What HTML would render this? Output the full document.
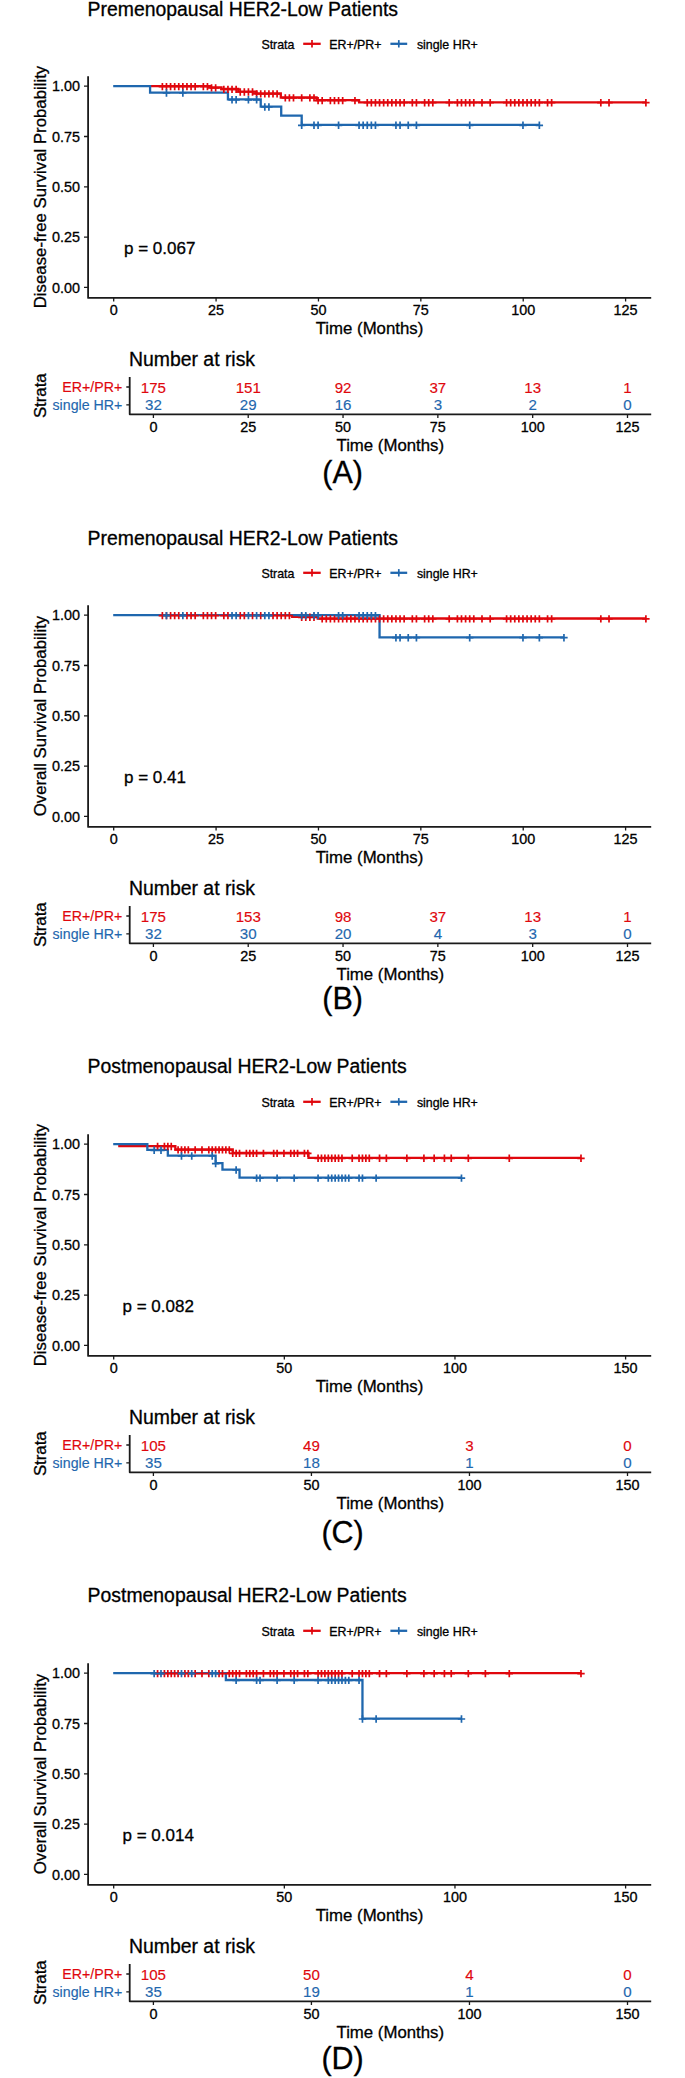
<!DOCTYPE html>
<html><head><meta charset="utf-8"><title>Kaplan-Meier curves</title>
<style>
html,body{margin:0;padding:0;background:#fff;}
svg{display:block;}
text{font-family:'Liberation Sans', Arial, Helvetica, sans-serif;fill:#000;stroke:#000;stroke-width:0.3px;}
.r{fill:#E0070D;stroke:#E0070D;stroke-width:0.15px;}
.b{fill:#1F67AE;stroke:#1F67AE;stroke-width:0.15px;}
.t12{font-size:12.4px;}
.t142{font-size:14.2px;}
.t14{font-size:14.4px;}
.t15{font-size:15.1px;}
.t17{font-size:16.8px;}
.t19{font-size:19.4px;}
.t17p{font-size:17.0px;}
.t30{font-size:30.5px;}
.m{text-anchor:middle;}
.e{text-anchor:end;}
</style></head>
<body>
<svg width="685" height="2078" viewBox="0 0 685 2078">
<rect width="685" height="2078" fill="#fff"/>
<text x="87.6" y="15.5" class="t19">Premenopausal HER2-Low Patients</text>
<text x="261.4" y="49.2" class="t12">Strata</text>
<path d="M303.2 43.8H320.7" stroke="#E0070D" stroke-width="2.3" fill="none"/><path d="M312 40.1v7.4" stroke="#E0070D" stroke-width="1.7" fill="none"/>
<text x="329.2" y="49.2" class="t12">ER+/PR+</text>
<path d="M390.4 43.8H407.2" stroke="#1F67AE" stroke-width="2.3" fill="none"/><path d="M398.8 40.1v7.4" stroke="#1F67AE" stroke-width="1.7" fill="none"/>
<text x="416.9" y="49.2" class="t12">single HR+</text>
<path d="M88.1 76.2V297.9H651.2" stroke="#1a1a1a" stroke-width="1.8" fill="none" stroke-linejoin="round"/>
<text x="80.1" y="91.3" class="t14 e">1.00</text>
<text x="80.1" y="141.6" class="t14 e">0.75</text>
<text x="80.1" y="191.9" class="t14 e">0.50</text>
<text x="80.1" y="242.2" class="t14 e">0.25</text>
<text x="80.1" y="292.5" class="t14 e">0.00</text>
<text x="113.7" y="315.2" class="t14 m">0</text>
<text x="216.08" y="315.2" class="t14 m">25</text>
<text x="318.46" y="315.2" class="t14 m">50</text>
<text x="420.84" y="315.2" class="t14 m">75</text>
<text x="523.22" y="315.2" class="t14 m">100</text>
<text x="625.6" y="315.2" class="t14 m">125</text>
<path d="M84 86.2H88.1M84 136.5H88.1M84 186.8H88.1M84 237.1H88.1M84 287.4H88.1M113.7 297.9V301.5M216.08 297.9V301.5M318.46 297.9V301.5M420.84 297.9V301.5M523.22 297.9V301.5M625.6 297.9V301.5" stroke="#1a1a1a" stroke-width="1.3" fill="none"/>
<text x="369.5" y="333.8" class="t17 m">Time (Months)</text>
<text transform="translate(46.3 187) rotate(-90)" x="0" y="0" class="t17 m">Disease-free Survival Probability</text>
<path d="M149.48 86.2H210.8V87.5H221.5V89H238.3V91.6H256.5V93.5H280.8V97.5H316.6V100.2H359.1V102.3H645.9" stroke="#E0070D" stroke-width="2.3" fill="none"/>
<path d="M113.2 86.2H150.08V92.6H227.94V99.4H260.72V106.6H281.21V115.7H301.69V124.9H539.36" stroke="#1F67AE" stroke-width="2.3" fill="none"/>
<path d="M158.67 86.6h7.4M162.37 82.9v7.4M162.77 86.6h7.4M166.47 82.9v7.4M166.87 86.6h7.4M170.57 82.9v7.4M170.97 86.6h7.4M174.67 82.9v7.4M175.06 86.6h7.4M178.76 82.9v7.4M179.16 86.6h7.4M182.86 82.9v7.4M183.26 86.6h7.4M186.96 82.9v7.4M187.36 86.6h7.4M191.06 82.9v7.4M191.45 86.6h7.4M195.15 82.9v7.4M199.65 86.6h7.4M203.35 82.9v7.4M203.75 86.6h7.4M207.45 82.9v7.4M207.84 87.9h7.4M211.54 84.2v7.4M211.94 87.9h7.4M215.64 84.2v7.4M220.14 89.4h7.4M223.84 85.7v7.4M224.24 89.4h7.4M227.94 85.7v7.4M228.33 89.4h7.4M232.03 85.7v7.4M232.43 89.4h7.4M236.13 85.7v7.4M236.53 92h7.4M240.23 88.3v7.4M240.63 92h7.4M244.33 88.3v7.4M244.72 92h7.4M248.42 88.3v7.4M248.82 92h7.4M252.52 88.3v7.4M252.92 93.9h7.4M256.62 90.2v7.4M257.02 93.9h7.4M260.72 90.2v7.4M261.11 93.9h7.4M264.81 90.2v7.4M265.21 93.9h7.4M268.91 90.2v7.4M269.31 93.9h7.4M273.01 90.2v7.4M273.41 93.9h7.4M277.11 90.2v7.4M281.6 97.9h7.4M285.3 94.2v7.4M285.7 97.9h7.4M289.4 94.2v7.4M289.8 97.9h7.4M293.5 94.2v7.4M297.99 97.9h7.4M301.69 94.2v7.4M306.19 97.9h7.4M309.89 94.2v7.4M310.29 97.9h7.4M313.99 94.2v7.4M314.38 100.6h7.4M318.08 96.9v7.4M318.48 100.6h7.4M322.18 96.9v7.4M326.68 100.6h7.4M330.38 96.9v7.4M330.78 100.6h7.4M334.48 96.9v7.4M334.87 100.6h7.4M338.57 96.9v7.4M338.97 100.6h7.4M342.67 96.9v7.4M351.26 100.6h7.4M354.96 96.9v7.4M363.56 102.7h7.4M367.26 99v7.4M367.66 102.7h7.4M371.36 99v7.4M371.75 102.7h7.4M375.45 99v7.4M375.85 102.7h7.4M379.55 99v7.4M379.95 102.7h7.4M383.65 99v7.4M384.05 102.7h7.4M387.75 99v7.4M388.14 102.7h7.4M391.84 99v7.4M392.24 102.7h7.4M395.94 99v7.4M396.34 102.7h7.4M400.04 99v7.4M400.44 102.7h7.4M404.14 99v7.4M408.63 102.7h7.4M412.33 99v7.4M412.73 102.7h7.4M416.43 99v7.4M420.93 102.7h7.4M424.63 99v7.4M425.02 102.7h7.4M428.72 99v7.4M429.12 102.7h7.4M432.82 99v7.4M445.51 102.7h7.4M449.21 99v7.4M453.71 102.7h7.4M457.41 99v7.4M457.8 102.7h7.4M461.5 99v7.4M461.9 102.7h7.4M465.6 99v7.4M466 102.7h7.4M469.7 99v7.4M470.1 102.7h7.4M473.8 99v7.4M478.29 102.7h7.4M481.99 99v7.4M486.49 102.7h7.4M490.19 99v7.4M502.88 102.7h7.4M506.58 99v7.4M506.98 102.7h7.4M510.68 99v7.4M511.07 102.7h7.4M514.77 99v7.4M515.17 102.7h7.4M518.87 99v7.4M519.27 102.7h7.4M522.97 99v7.4M523.37 102.7h7.4M527.07 99v7.4M527.47 102.7h7.4M531.17 99v7.4M531.56 102.7h7.4M535.26 99v7.4M535.66 102.7h7.4M539.36 99v7.4M543.86 102.7h7.4M547.56 99v7.4M547.95 102.7h7.4M551.65 99v7.4M597.13 102.7h7.4M600.83 99v7.4M605.32 102.7h7.4M609.02 99v7.4M642.2 102.7h7.4M645.9 99v7.4" stroke="#E0070D" stroke-width="1.7" fill="none"/>
<path d="M162.77 93h7.4M166.47 89.3v7.4M179.16 93h7.4M182.86 89.3v7.4M228.33 99.8h7.4M232.03 96.1v7.4M232.43 99.8h7.4M236.13 96.1v7.4M244.72 99.8h7.4M248.42 96.1v7.4M252.92 99.8h7.4M256.62 96.1v7.4M261.11 107h7.4M264.81 103.3v7.4M265.21 107h7.4M268.91 103.3v7.4M297.99 125.3h7.4M301.69 121.6v7.4M310.29 125.3h7.4M313.99 121.6v7.4M314.38 125.3h7.4M318.08 121.6v7.4M334.87 125.3h7.4M338.57 121.6v7.4M355.36 125.3h7.4M359.06 121.6v7.4M359.46 125.3h7.4M363.16 121.6v7.4M363.56 125.3h7.4M367.26 121.6v7.4M367.66 125.3h7.4M371.36 121.6v7.4M371.75 125.3h7.4M375.45 121.6v7.4M392.24 125.3h7.4M395.94 121.6v7.4M396.34 125.3h7.4M400.04 121.6v7.4M404.53 125.3h7.4M408.23 121.6v7.4M412.73 125.3h7.4M416.43 121.6v7.4M466 125.3h7.4M469.7 121.6v7.4M519.27 125.3h7.4M522.97 121.6v7.4M535.66 125.3h7.4M539.36 121.6v7.4" stroke="#1F67AE" stroke-width="1.7" fill="none"/>
<text x="124.0" y="253.6" class="t17p">p = 0.067</text>
<text x="129" y="365.7" class="t19">Number at risk</text>
<text transform="translate(46.4 395.7) rotate(-90)" x="0" y="0" class="t17 m">Strata</text>
<path d="M129.7 377.1V414.3H651.2" stroke="#1a1a1a" stroke-width="1.8" fill="none" stroke-linejoin="round"/>
<text x="122.3" y="391.9" class="t142 e r">ER+/PR+</text>
<text x="122.3" y="409.7" class="t142 e b">single HR+</text>
<text x="153.4" y="432" class="t14 m">0</text>
<text x="153.4" y="393.4" class="t15 m r">175</text>
<text x="153.4" y="410.4" class="t15 m b">32</text>
<text x="248.22" y="432" class="t14 m">25</text>
<text x="248.22" y="393.4" class="t15 m r">151</text>
<text x="248.22" y="410.4" class="t15 m b">29</text>
<text x="343.04" y="432" class="t14 m">50</text>
<text x="343.04" y="393.4" class="t15 m r">92</text>
<text x="343.04" y="410.4" class="t15 m b">16</text>
<text x="437.86" y="432" class="t14 m">75</text>
<text x="437.86" y="393.4" class="t15 m r">37</text>
<text x="437.86" y="410.4" class="t15 m b">3</text>
<text x="532.68" y="432" class="t14 m">100</text>
<text x="532.68" y="393.4" class="t15 m r">13</text>
<text x="532.68" y="410.4" class="t15 m b">2</text>
<text x="627.5" y="432" class="t14 m">125</text>
<text x="627.5" y="393.4" class="t15 m r">1</text>
<text x="627.5" y="410.4" class="t15 m b">0</text>
<path d="M126.3 387H129.7M126.3 404.8H129.7M153.4 414.3V417.9M248.22 414.3V417.9M343.04 414.3V417.9M437.86 414.3V417.9M532.68 414.3V417.9M627.5 414.3V417.9" stroke="#1a1a1a" stroke-width="1.3" fill="none"/>
<text x="390.3" y="451" class="t17 m">Time (Months)</text>
<text x="342.6" y="482.9" class="t30 m">(A)</text>
<text x="87.6" y="544.5" class="t19">Premenopausal HER2-Low Patients</text>
<text x="261.4" y="578.2" class="t12">Strata</text>
<path d="M303.2 572.8H320.7" stroke="#E0070D" stroke-width="2.3" fill="none"/><path d="M312 569.1v7.4" stroke="#E0070D" stroke-width="1.7" fill="none"/>
<text x="329.2" y="578.2" class="t12">ER+/PR+</text>
<path d="M390.4 572.8H407.2" stroke="#1F67AE" stroke-width="2.3" fill="none"/><path d="M398.8 569.1v7.4" stroke="#1F67AE" stroke-width="1.7" fill="none"/>
<text x="416.9" y="578.2" class="t12">single HR+</text>
<path d="M88.1 605.2V826.9H651.2" stroke="#1a1a1a" stroke-width="1.8" fill="none" stroke-linejoin="round"/>
<text x="80.1" y="620.3" class="t14 e">1.00</text>
<text x="80.1" y="670.6" class="t14 e">0.75</text>
<text x="80.1" y="720.9" class="t14 e">0.50</text>
<text x="80.1" y="771.2" class="t14 e">0.25</text>
<text x="80.1" y="821.5" class="t14 e">0.00</text>
<text x="113.7" y="844.2" class="t14 m">0</text>
<text x="216.08" y="844.2" class="t14 m">25</text>
<text x="318.46" y="844.2" class="t14 m">50</text>
<text x="420.84" y="844.2" class="t14 m">75</text>
<text x="523.22" y="844.2" class="t14 m">100</text>
<text x="625.6" y="844.2" class="t14 m">125</text>
<path d="M84 615.2H88.1M84 665.5H88.1M84 715.8H88.1M84 766.1H88.1M84 816.4H88.1M113.7 826.9V830.5M216.08 826.9V830.5M318.46 826.9V830.5M420.84 826.9V830.5M523.22 826.9V830.5M625.6 826.9V830.5" stroke="#1a1a1a" stroke-width="1.3" fill="none"/>
<text x="369.5" y="862.8" class="t17 m">Time (Months)</text>
<text transform="translate(46.3 716) rotate(-90)" x="0" y="0" class="t17 m">Overall Survival Probability</text>
<path d="M291.6 615.2H292.2V616.9H317.7V618.5H645.9" stroke="#E0070D" stroke-width="2.3" fill="none"/>
<path d="M113.2 615.2H379.55V637.3H563.95" stroke="#1F67AE" stroke-width="2.3" fill="none"/>
<path d="M158.67 615.6h7.4M162.37 611.9v7.4M162.77 615.6h7.4M166.47 611.9v7.4M166.87 615.6h7.4M170.57 611.9v7.4M170.97 615.6h7.4M174.67 611.9v7.4M175.06 615.6h7.4M178.76 611.9v7.4M183.26 615.6h7.4M186.96 611.9v7.4M187.36 615.6h7.4M191.06 611.9v7.4M191.45 615.6h7.4M195.15 611.9v7.4M199.65 615.6h7.4M203.35 611.9v7.4M203.75 615.6h7.4M207.45 611.9v7.4M207.84 615.6h7.4M211.54 611.9v7.4M211.94 615.6h7.4M215.64 611.9v7.4M220.14 615.6h7.4M223.84 611.9v7.4M224.24 615.6h7.4M227.94 611.9v7.4M236.53 615.6h7.4M240.23 611.9v7.4M240.63 615.6h7.4M244.33 611.9v7.4M248.82 615.6h7.4M252.52 611.9v7.4M257.02 615.6h7.4M260.72 611.9v7.4M269.31 615.6h7.4M273.01 611.9v7.4M273.41 615.6h7.4M277.11 611.9v7.4M277.51 615.6h7.4M281.21 611.9v7.4M281.6 615.6h7.4M285.3 611.9v7.4M285.7 615.6h7.4M289.4 611.9v7.4M297.99 617.3h7.4M301.69 613.6v7.4M302.09 617.3h7.4M305.79 613.6v7.4M306.19 617.3h7.4M309.89 613.6v7.4M310.29 617.3h7.4M313.99 613.6v7.4M318.48 618.9h7.4M322.18 615.2v7.4M322.58 618.9h7.4M326.28 615.2v7.4M326.68 618.9h7.4M330.38 615.2v7.4M330.78 618.9h7.4M334.48 615.2v7.4M334.87 618.9h7.4M338.57 615.2v7.4M338.97 618.9h7.4M342.67 615.2v7.4M343.07 618.9h7.4M346.77 615.2v7.4M347.17 618.9h7.4M350.87 615.2v7.4M351.26 618.9h7.4M354.96 615.2v7.4M355.36 618.9h7.4M359.06 615.2v7.4M359.46 618.9h7.4M363.16 615.2v7.4M363.56 618.9h7.4M367.26 615.2v7.4M367.66 618.9h7.4M371.36 615.2v7.4M371.75 618.9h7.4M375.45 615.2v7.4M375.85 618.9h7.4M379.55 615.2v7.4M379.95 618.9h7.4M383.65 615.2v7.4M384.05 618.9h7.4M387.75 615.2v7.4M388.14 618.9h7.4M391.84 615.2v7.4M392.24 618.9h7.4M395.94 615.2v7.4M396.34 618.9h7.4M400.04 615.2v7.4M400.44 618.9h7.4M404.14 615.2v7.4M408.63 618.9h7.4M412.33 615.2v7.4M412.73 618.9h7.4M416.43 615.2v7.4M420.93 618.9h7.4M424.63 615.2v7.4M425.02 618.9h7.4M428.72 615.2v7.4M429.12 618.9h7.4M432.82 615.2v7.4M445.51 618.9h7.4M449.21 615.2v7.4M453.71 618.9h7.4M457.41 615.2v7.4M457.8 618.9h7.4M461.5 615.2v7.4M461.9 618.9h7.4M465.6 615.2v7.4M466 618.9h7.4M469.7 615.2v7.4M470.1 618.9h7.4M473.8 615.2v7.4M478.29 618.9h7.4M481.99 615.2v7.4M486.49 618.9h7.4M490.19 615.2v7.4M502.88 618.9h7.4M506.58 615.2v7.4M506.98 618.9h7.4M510.68 615.2v7.4M511.07 618.9h7.4M514.77 615.2v7.4M515.17 618.9h7.4M518.87 615.2v7.4M519.27 618.9h7.4M522.97 615.2v7.4M523.37 618.9h7.4M527.07 615.2v7.4M527.47 618.9h7.4M531.17 615.2v7.4M531.56 618.9h7.4M535.26 615.2v7.4M535.66 618.9h7.4M539.36 615.2v7.4M543.86 618.9h7.4M547.56 615.2v7.4M547.95 618.9h7.4M551.65 615.2v7.4M597.13 618.9h7.4M600.83 615.2v7.4M605.32 618.9h7.4M609.02 615.2v7.4M642.2 618.9h7.4M645.9 615.2v7.4" stroke="#E0070D" stroke-width="1.7" fill="none"/>
<path d="M162.77 615.6h7.4M166.47 611.9v7.4M179.16 615.6h7.4M182.86 611.9v7.4M228.33 615.6h7.4M232.03 611.9v7.4M232.43 615.6h7.4M236.13 611.9v7.4M244.72 615.6h7.4M248.42 611.9v7.4M252.92 615.6h7.4M256.62 611.9v7.4M261.11 615.6h7.4M264.81 611.9v7.4M265.21 615.6h7.4M268.91 611.9v7.4M297.99 615.6h7.4M301.69 611.9v7.4M302.09 615.6h7.4M305.79 611.9v7.4M310.29 615.6h7.4M313.99 611.9v7.4M314.38 615.6h7.4M318.08 611.9v7.4M334.87 615.6h7.4M338.57 611.9v7.4M338.97 615.6h7.4M342.67 611.9v7.4M355.36 615.6h7.4M359.06 611.9v7.4M359.46 615.6h7.4M363.16 611.9v7.4M363.56 615.6h7.4M367.26 611.9v7.4M367.66 615.6h7.4M371.36 611.9v7.4M371.75 615.6h7.4M375.45 611.9v7.4M392.24 637.7h7.4M395.94 634v7.4M396.34 637.7h7.4M400.04 634v7.4M404.53 637.7h7.4M408.23 634v7.4M412.73 637.7h7.4M416.43 634v7.4M466 637.7h7.4M469.7 634v7.4M519.27 637.7h7.4M522.97 634v7.4M535.66 637.7h7.4M539.36 634v7.4M560.25 637.7h7.4M563.95 634v7.4" stroke="#1F67AE" stroke-width="1.7" fill="none"/>
<text x="124.0" y="782.6" class="t17p">p = 0.41</text>
<text x="129" y="894.7" class="t19">Number at risk</text>
<text transform="translate(46.4 924.7) rotate(-90)" x="0" y="0" class="t17 m">Strata</text>
<path d="M129.7 906.1V943.3H651.2" stroke="#1a1a1a" stroke-width="1.8" fill="none" stroke-linejoin="round"/>
<text x="122.3" y="920.9" class="t142 e r">ER+/PR+</text>
<text x="122.3" y="938.7" class="t142 e b">single HR+</text>
<text x="153.4" y="961" class="t14 m">0</text>
<text x="153.4" y="922.4" class="t15 m r">175</text>
<text x="153.4" y="939.4" class="t15 m b">32</text>
<text x="248.22" y="961" class="t14 m">25</text>
<text x="248.22" y="922.4" class="t15 m r">153</text>
<text x="248.22" y="939.4" class="t15 m b">30</text>
<text x="343.04" y="961" class="t14 m">50</text>
<text x="343.04" y="922.4" class="t15 m r">98</text>
<text x="343.04" y="939.4" class="t15 m b">20</text>
<text x="437.86" y="961" class="t14 m">75</text>
<text x="437.86" y="922.4" class="t15 m r">37</text>
<text x="437.86" y="939.4" class="t15 m b">4</text>
<text x="532.68" y="961" class="t14 m">100</text>
<text x="532.68" y="922.4" class="t15 m r">13</text>
<text x="532.68" y="939.4" class="t15 m b">3</text>
<text x="627.5" y="961" class="t14 m">125</text>
<text x="627.5" y="922.4" class="t15 m r">1</text>
<text x="627.5" y="939.4" class="t15 m b">0</text>
<path d="M126.3 916H129.7M126.3 933.8H129.7M153.4 943.3V946.9M248.22 943.3V946.9M343.04 943.3V946.9M437.86 943.3V946.9M532.68 943.3V946.9M627.5 943.3V946.9" stroke="#1a1a1a" stroke-width="1.3" fill="none"/>
<text x="390.3" y="980" class="t17 m">Time (Months)</text>
<text x="342.6" y="1009.1" class="t30 m">(B)</text>
<text x="87.6" y="1072.8" class="t19">Postmenopausal HER2-Low Patients</text>
<text x="261.4" y="1107.2" class="t12">Strata</text>
<path d="M303.2 1101.8H320.7" stroke="#E0070D" stroke-width="2.3" fill="none"/><path d="M312 1098.1v7.4" stroke="#E0070D" stroke-width="1.7" fill="none"/>
<text x="329.2" y="1107.2" class="t12">ER+/PR+</text>
<path d="M390.4 1101.8H407.2" stroke="#1F67AE" stroke-width="2.3" fill="none"/><path d="M398.8 1098.1v7.4" stroke="#1F67AE" stroke-width="1.7" fill="none"/>
<text x="416.9" y="1107.2" class="t12">single HR+</text>
<path d="M88.1 1134.2V1355.9H651.2" stroke="#1a1a1a" stroke-width="1.8" fill="none" stroke-linejoin="round"/>
<text x="80.1" y="1149.3" class="t14 e">1.00</text>
<text x="80.1" y="1199.6" class="t14 e">0.75</text>
<text x="80.1" y="1249.9" class="t14 e">0.50</text>
<text x="80.1" y="1300.2" class="t14 e">0.25</text>
<text x="80.1" y="1350.5" class="t14 e">0.00</text>
<text x="113.7" y="1373.2" class="t14 m">0</text>
<text x="284.33" y="1373.2" class="t14 m">50</text>
<text x="454.97" y="1373.2" class="t14 m">100</text>
<text x="625.6" y="1373.2" class="t14 m">150</text>
<path d="M84 1144.2H88.1M84 1194.5H88.1M84 1244.8H88.1M84 1295.1H88.1M84 1345.4H88.1M113.7 1355.9V1359.5M284.33 1355.9V1359.5M454.97 1355.9V1359.5M625.6 1355.9V1359.5" stroke="#1a1a1a" stroke-width="1.3" fill="none"/>
<text x="369.5" y="1391.8" class="t17 m">Time (Months)</text>
<text transform="translate(46.3 1245) rotate(-90)" x="0" y="0" class="t17 m">Disease-free Survival Probability</text>
<path d="M118.75 1144.2H119.35V1146.1H175.34V1149.5H232.71V1153H308.51V1157.9H580.99" stroke="#E0070D" stroke-width="2.3" fill="none"/>
<path d="M113.2 1144.2H147.34V1149.9H167.83V1155.6H215.63V1163.2H222.46V1169.6H239.54V1177.7H461.48" stroke="#1F67AE" stroke-width="2.3" fill="none"/>
<path d="M153.89 1146.5h7.4M157.59 1142.8v7.4M160.72 1146.5h7.4M164.42 1142.8v7.4M164.13 1146.5h7.4M167.83 1142.8v7.4M167.55 1146.5h7.4M171.25 1142.8v7.4M174.38 1149.9h7.4M178.08 1146.2v7.4M177.79 1149.9h7.4M181.49 1146.2v7.4M181.2 1149.9h7.4M184.9 1146.2v7.4M184.62 1149.9h7.4M188.32 1146.2v7.4M191.45 1149.9h7.4M195.15 1146.2v7.4M198.28 1149.9h7.4M201.98 1146.2v7.4M205.11 1149.9h7.4M208.81 1146.2v7.4M208.52 1149.9h7.4M212.22 1146.2v7.4M211.94 1149.9h7.4M215.63 1146.2v7.4M215.35 1149.9h7.4M219.05 1146.2v7.4M218.76 1149.9h7.4M222.46 1146.2v7.4M222.18 1149.9h7.4M225.88 1146.2v7.4M225.59 1149.9h7.4M229.29 1146.2v7.4M229.01 1153.4h7.4M232.71 1149.7v7.4M232.42 1153.4h7.4M236.12 1149.7v7.4M235.84 1153.4h7.4M239.54 1149.7v7.4M242.67 1153.4h7.4M246.37 1149.7v7.4M246.08 1153.4h7.4M249.78 1149.7v7.4M249.49 1153.4h7.4M253.19 1149.7v7.4M252.91 1153.4h7.4M256.61 1149.7v7.4M259.74 1153.4h7.4M263.44 1149.7v7.4M269.98 1153.4h7.4M273.68 1149.7v7.4M273.4 1153.4h7.4M277.1 1149.7v7.4M280.23 1153.4h7.4M283.93 1149.7v7.4M287.05 1153.4h7.4M290.75 1149.7v7.4M290.47 1153.4h7.4M294.17 1149.7v7.4M293.88 1153.4h7.4M297.58 1149.7v7.4M300.71 1153.4h7.4M304.41 1149.7v7.4M304.13 1153.4h7.4M307.83 1149.7v7.4M314.37 1158.3h7.4M318.07 1154.6v7.4M317.78 1158.3h7.4M321.48 1154.6v7.4M321.2 1158.3h7.4M324.9 1154.6v7.4M324.61 1158.3h7.4M328.31 1154.6v7.4M328.03 1158.3h7.4M331.73 1154.6v7.4M331.44 1158.3h7.4M335.14 1154.6v7.4M334.86 1158.3h7.4M338.56 1154.6v7.4M338.27 1158.3h7.4M341.97 1154.6v7.4M348.51 1158.3h7.4M352.21 1154.6v7.4M355.34 1158.3h7.4M359.04 1154.6v7.4M358.76 1158.3h7.4M362.46 1154.6v7.4M362.17 1158.3h7.4M365.87 1154.6v7.4M365.59 1158.3h7.4M369.29 1154.6v7.4M375.83 1158.3h7.4M379.53 1154.6v7.4M382.66 1158.3h7.4M386.36 1154.6v7.4M403.15 1158.3h7.4M406.85 1154.6v7.4M420.22 1158.3h7.4M423.92 1154.6v7.4M430.46 1158.3h7.4M434.16 1154.6v7.4M440.71 1158.3h7.4M444.41 1154.6v7.4M447.54 1158.3h7.4M451.24 1154.6v7.4M464.61 1158.3h7.4M468.31 1154.6v7.4M505.58 1158.3h7.4M509.28 1154.6v7.4M577.29 1158.3h7.4M580.99 1154.6v7.4" stroke="#E0070D" stroke-width="1.7" fill="none"/>
<path d="M150.47 1150.3h7.4M154.17 1146.6v7.4M157.3 1150.3h7.4M161 1146.6v7.4M177.79 1156h7.4M181.49 1152.3v7.4M188.03 1156h7.4M191.73 1152.3v7.4M208.52 1156h7.4M212.22 1152.3v7.4M211.94 1163.6h7.4M215.63 1159.9v7.4M232.42 1170h7.4M236.12 1166.3v7.4M252.91 1178.1h7.4M256.61 1174.4v7.4M256.32 1178.1h7.4M260.02 1174.4v7.4M273.4 1178.1h7.4M277.1 1174.4v7.4M290.47 1178.1h7.4M294.17 1174.4v7.4M314.37 1178.1h7.4M318.07 1174.4v7.4M324.61 1178.1h7.4M328.31 1174.4v7.4M328.03 1178.1h7.4M331.73 1174.4v7.4M331.44 1178.1h7.4M335.14 1174.4v7.4M334.86 1178.1h7.4M338.56 1174.4v7.4M338.27 1178.1h7.4M341.97 1174.4v7.4M341.69 1178.1h7.4M345.39 1174.4v7.4M345.1 1178.1h7.4M348.8 1174.4v7.4M355.34 1178.1h7.4M359.04 1174.4v7.4M358.76 1178.1h7.4M362.46 1174.4v7.4M372.42 1178.1h7.4M376.12 1174.4v7.4M457.78 1178.1h7.4M461.48 1174.4v7.4" stroke="#1F67AE" stroke-width="1.7" fill="none"/>
<text x="122.5" y="1311.6" class="t17p">p = 0.082</text>
<text x="129" y="1423.7" class="t19">Number at risk</text>
<text transform="translate(46.4 1453.7) rotate(-90)" x="0" y="0" class="t17 m">Strata</text>
<path d="M129.7 1435.1V1472.3H651.2" stroke="#1a1a1a" stroke-width="1.8" fill="none" stroke-linejoin="round"/>
<text x="122.3" y="1449.9" class="t142 e r">ER+/PR+</text>
<text x="122.3" y="1467.7" class="t142 e b">single HR+</text>
<text x="153.4" y="1490" class="t14 m">0</text>
<text x="153.4" y="1451.4" class="t15 m r">105</text>
<text x="153.4" y="1468.4" class="t15 m b">35</text>
<text x="311.43" y="1490" class="t14 m">50</text>
<text x="311.43" y="1451.4" class="t15 m r">49</text>
<text x="311.43" y="1468.4" class="t15 m b">18</text>
<text x="469.47" y="1490" class="t14 m">100</text>
<text x="469.47" y="1451.4" class="t15 m r">3</text>
<text x="469.47" y="1468.4" class="t15 m b">1</text>
<text x="627.5" y="1490" class="t14 m">150</text>
<text x="627.5" y="1451.4" class="t15 m r">0</text>
<text x="627.5" y="1468.4" class="t15 m b">0</text>
<path d="M126.3 1445H129.7M126.3 1462.8H129.7M153.4 1472.3V1475.9M311.43 1472.3V1475.9M469.47 1472.3V1475.9M627.5 1472.3V1475.9" stroke="#1a1a1a" stroke-width="1.3" fill="none"/>
<text x="390.3" y="1509" class="t17 m">Time (Months)</text>
<text x="342.6" y="1542.9" class="t30 m">(C)</text>
<text x="87.6" y="1601.9" class="t19">Postmenopausal HER2-Low Patients</text>
<text x="261.4" y="1636.2" class="t12">Strata</text>
<path d="M303.2 1630.8H320.7" stroke="#E0070D" stroke-width="2.3" fill="none"/><path d="M312 1627.1v7.4" stroke="#E0070D" stroke-width="1.7" fill="none"/>
<text x="329.2" y="1636.2" class="t12">ER+/PR+</text>
<path d="M390.4 1630.8H407.2" stroke="#1F67AE" stroke-width="2.3" fill="none"/><path d="M398.8 1627.1v7.4" stroke="#1F67AE" stroke-width="1.7" fill="none"/>
<text x="416.9" y="1636.2" class="t12">single HR+</text>
<path d="M88.1 1663.2V1884.9H651.2" stroke="#1a1a1a" stroke-width="1.8" fill="none" stroke-linejoin="round"/>
<text x="80.1" y="1678.3" class="t14 e">1.00</text>
<text x="80.1" y="1728.6" class="t14 e">0.75</text>
<text x="80.1" y="1778.9" class="t14 e">0.50</text>
<text x="80.1" y="1829.2" class="t14 e">0.25</text>
<text x="80.1" y="1879.5" class="t14 e">0.00</text>
<text x="113.7" y="1902.2" class="t14 m">0</text>
<text x="284.33" y="1902.2" class="t14 m">50</text>
<text x="454.97" y="1902.2" class="t14 m">100</text>
<text x="625.6" y="1902.2" class="t14 m">150</text>
<path d="M84 1673.2H88.1M84 1723.5H88.1M84 1773.8H88.1M84 1824.1H88.1M84 1874.4H88.1M113.7 1884.9V1888.5M284.33 1884.9V1888.5M454.97 1884.9V1888.5M625.6 1884.9V1888.5" stroke="#1a1a1a" stroke-width="1.3" fill="none"/>
<text x="369.5" y="1920.8" class="t17 m">Time (Months)</text>
<text transform="translate(46.3 1774) rotate(-90)" x="0" y="0" class="t17 m">Overall Survival Probability</text>
<path d="M225.28 1673.2H580.99" stroke="#E0070D" stroke-width="2.3" fill="none"/>
<path d="M113.2 1673.2H225.88V1680H362.46V1718.6H461.48" stroke="#1F67AE" stroke-width="2.3" fill="none"/>
<path d="M153.89 1673.6h7.4M157.59 1669.9v7.4M160.72 1673.6h7.4M164.42 1669.9v7.4M164.13 1673.6h7.4M167.83 1669.9v7.4M167.55 1673.6h7.4M171.25 1669.9v7.4M170.96 1673.6h7.4M174.66 1669.9v7.4M174.38 1673.6h7.4M178.08 1669.9v7.4M181.2 1673.6h7.4M184.9 1669.9v7.4M184.62 1673.6h7.4M188.32 1669.9v7.4M191.45 1673.6h7.4M195.15 1669.9v7.4M198.28 1673.6h7.4M201.98 1669.9v7.4M205.11 1673.6h7.4M208.81 1669.9v7.4M215.35 1673.6h7.4M219.05 1669.9v7.4M218.76 1673.6h7.4M222.46 1669.9v7.4M225.59 1673.6h7.4M229.29 1669.9v7.4M229.01 1673.6h7.4M232.71 1669.9v7.4M232.42 1673.6h7.4M236.12 1669.9v7.4M235.84 1673.6h7.4M239.54 1669.9v7.4M242.67 1673.6h7.4M246.37 1669.9v7.4M246.08 1673.6h7.4M249.78 1669.9v7.4M249.49 1673.6h7.4M253.19 1669.9v7.4M252.91 1673.6h7.4M256.61 1669.9v7.4M259.74 1673.6h7.4M263.44 1669.9v7.4M266.57 1673.6h7.4M270.27 1669.9v7.4M269.98 1673.6h7.4M273.68 1669.9v7.4M273.4 1673.6h7.4M277.1 1669.9v7.4M280.23 1673.6h7.4M283.93 1669.9v7.4M287.05 1673.6h7.4M290.75 1669.9v7.4M290.47 1673.6h7.4M294.17 1669.9v7.4M293.88 1673.6h7.4M297.58 1669.9v7.4M300.71 1673.6h7.4M304.41 1669.9v7.4M304.13 1673.6h7.4M307.83 1669.9v7.4M314.37 1673.6h7.4M318.07 1669.9v7.4M317.78 1673.6h7.4M321.48 1669.9v7.4M321.2 1673.6h7.4M324.9 1669.9v7.4M324.61 1673.6h7.4M328.31 1669.9v7.4M328.03 1673.6h7.4M331.73 1669.9v7.4M331.44 1673.6h7.4M335.14 1669.9v7.4M334.86 1673.6h7.4M338.56 1669.9v7.4M338.27 1673.6h7.4M341.97 1669.9v7.4M348.51 1673.6h7.4M352.21 1669.9v7.4M355.34 1673.6h7.4M359.04 1669.9v7.4M358.76 1673.6h7.4M362.46 1669.9v7.4M362.17 1673.6h7.4M365.87 1669.9v7.4M365.59 1673.6h7.4M369.29 1669.9v7.4M375.83 1673.6h7.4M379.53 1669.9v7.4M382.66 1673.6h7.4M386.36 1669.9v7.4M403.15 1673.6h7.4M406.85 1669.9v7.4M420.22 1673.6h7.4M423.92 1669.9v7.4M430.46 1673.6h7.4M434.16 1669.9v7.4M440.71 1673.6h7.4M444.41 1669.9v7.4M447.54 1673.6h7.4M451.24 1669.9v7.4M464.61 1673.6h7.4M468.31 1669.9v7.4M481.68 1673.6h7.4M485.38 1669.9v7.4M505.58 1673.6h7.4M509.28 1669.9v7.4M577.29 1673.6h7.4M580.99 1669.9v7.4" stroke="#E0070D" stroke-width="1.7" fill="none"/>
<path d="M150.47 1673.6h7.4M154.17 1669.9v7.4M157.3 1673.6h7.4M161 1669.9v7.4M177.79 1673.6h7.4M181.49 1669.9v7.4M188.03 1673.6h7.4M191.73 1669.9v7.4M208.52 1673.6h7.4M212.22 1669.9v7.4M211.94 1673.6h7.4M215.63 1669.9v7.4M232.42 1680.4h7.4M236.12 1676.7v7.4M252.91 1680.4h7.4M256.61 1676.7v7.4M256.32 1680.4h7.4M260.02 1676.7v7.4M273.4 1680.4h7.4M277.1 1676.7v7.4M290.47 1680.4h7.4M294.17 1676.7v7.4M314.37 1680.4h7.4M318.07 1676.7v7.4M324.61 1680.4h7.4M328.31 1676.7v7.4M328.03 1680.4h7.4M331.73 1676.7v7.4M331.44 1680.4h7.4M335.14 1676.7v7.4M334.86 1680.4h7.4M338.56 1676.7v7.4M338.27 1680.4h7.4M341.97 1676.7v7.4M341.69 1680.4h7.4M345.39 1676.7v7.4M345.1 1680.4h7.4M348.8 1676.7v7.4M355.34 1680.4h7.4M359.04 1676.7v7.4M358.76 1719h7.4M362.46 1715.3v7.4M372.42 1719h7.4M376.12 1715.3v7.4M457.78 1719h7.4M461.48 1715.3v7.4" stroke="#1F67AE" stroke-width="1.7" fill="none"/>
<text x="122.5" y="1840.6" class="t17p">p = 0.014</text>
<text x="129" y="1952.7" class="t19">Number at risk</text>
<text transform="translate(46.4 1982.7) rotate(-90)" x="0" y="0" class="t17 m">Strata</text>
<path d="M129.7 1964.1V2001.3H651.2" stroke="#1a1a1a" stroke-width="1.8" fill="none" stroke-linejoin="round"/>
<text x="122.3" y="1978.9" class="t142 e r">ER+/PR+</text>
<text x="122.3" y="1996.7" class="t142 e b">single HR+</text>
<text x="153.4" y="2019" class="t14 m">0</text>
<text x="153.4" y="1980.4" class="t15 m r">105</text>
<text x="153.4" y="1997.4" class="t15 m b">35</text>
<text x="311.43" y="2019" class="t14 m">50</text>
<text x="311.43" y="1980.4" class="t15 m r">50</text>
<text x="311.43" y="1997.4" class="t15 m b">19</text>
<text x="469.47" y="2019" class="t14 m">100</text>
<text x="469.47" y="1980.4" class="t15 m r">4</text>
<text x="469.47" y="1997.4" class="t15 m b">1</text>
<text x="627.5" y="2019" class="t14 m">150</text>
<text x="627.5" y="1980.4" class="t15 m r">0</text>
<text x="627.5" y="1997.4" class="t15 m b">0</text>
<path d="M126.3 1974H129.7M126.3 1991.8H129.7M153.4 2001.3V2004.9M311.43 2001.3V2004.9M469.47 2001.3V2004.9M627.5 2001.3V2004.9" stroke="#1a1a1a" stroke-width="1.3" fill="none"/>
<text x="390.3" y="2038" class="t17 m">Time (Months)</text>
<text x="342.6" y="2069.3" class="t30 m">(D)</text>
</svg>
</body></html>
